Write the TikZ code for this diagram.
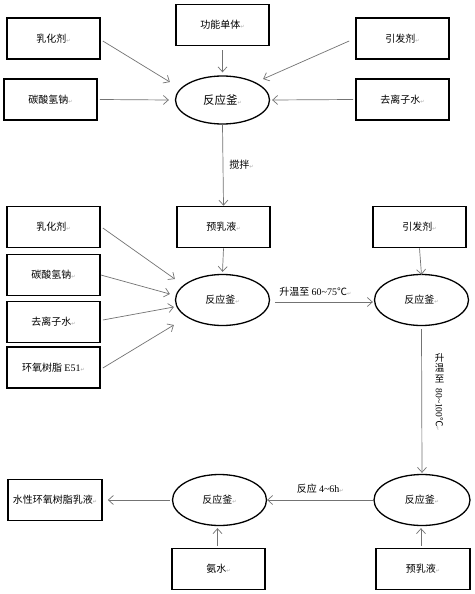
\documentclass[tikz,border=0pt]{standalone}
\usepackage{fontspec}
\usepackage{graphicx}
\setmainfont{Liberation Serif}
\newfontfamily\cjk{Noto Sans CJK SC}
\newfontfamily\symf{DejaVu Sans}
\usetikzlibrary{arrows.meta,shapes.geometric,calc}
\newcommand\rt{\textcolor{black!35}{\symf\fontsize{5}{5}\selectfont ↵}}
\begin{document}
\begin{tikzpicture}[x=1pt,y=-1pt,
  box/.style={draw=black,line width=1.7pt,minimum width=93pt,minimum height=41pt,inner sep=0pt,
    font=\cjk\fontsize{10}{12}\selectfont},
  pot/.style={draw=black,line width=1.3pt,ellipse,minimum width=94pt,minimum height=51pt,inner sep=0pt,
    font=\cjk\fontsize{10}{12}\selectfont},
  arr/.style={draw=black!55,line width=0.7pt,-{Straight Barb[length=5pt,width=9pt]}},
  lbl/.style={inner sep=0pt,font=\cjk\fontsize{10}{12}\selectfont}
]
\useasboundingbox[fill=white] (0,0) rectangle (474,594);

% ---- top section
\node[box] (ruhuaA) at (53.5,38.5) {乳化剂\rt};
\node[box] (gongneng) at (222.5,25) {功能单体\rt};
\node[box] (yinfaA) at (402.5,38.5) {引发剂\rt};
\node[box] (tansuanA) at (50.5,99.5) {碳酸氢钠\rt};
\node[box] (shuiA) at (402.5,99.5) {去离子水\rt};
\node[pot,minimum height=48pt,font=\cjk\fontsize{11.5}{13}\selectfont] (potA) at (222.5,100) {反应釜\rt};

\draw[arr] ($(ruhuaA.east)+(2,2.5)$) -- ($(potA.west)+(-5,-18)$);
\draw[arr] (gongneng.south) ++(0,4) coordinate (g0) (g0) -- ($(potA.north)+(0,-3)$);
\draw[arr] ($(yinfaA.west)+(-6,2.5)$) -- ($(potA.east)+(-7,-21)$);
\draw[arr] (tansuanA.east) ++(2,0) coordinate (t0) (t0) -- ($(potA.west)+(-6,0)$);
\draw[arr] ($(shuiA.west)+(-2,0)$) -- ($(potA.east)+(2,0)$);

% ---- middle section
\node[box] (yuruA) at (223.5,227) {预乳液\rt};
\node[box] (yinfaB) at (419.5,227) {引发剂\rt};
\node[box] (ruhuaB) at (53.5,227) {乳化剂\rt};
\node[box] (tansuanB) at (53.5,275) {碳酸氢钠\rt};
\node[box] (shuiB) at (53.5,322) {去离子水\rt};
\node[box] (huanyang) at (53.5,367.5) {环氧树脂 {\rmfamily E51}\rt};
\node[pot] (potB) at (222.5,300) {反应釜\rt};
\node[pot] (potC) at (421.5,300) {反应釜\rt};

\draw[arr] (potA.south) -- (yuruA.north) node[pos=0.5,right=6pt,lbl] {搅拌\rt};
\draw[arr] (yuruA.south) -- ($(potB.north)+(0,-2)$);
\draw[arr] (yinfaB.south) -- ($(potC.north)+(0,1)$);
\draw[arr] ($(ruhuaB.east)+(2,1)$) -- ($(potB.west)+(0,-21)$);
\draw[arr] ($(tansuanB.east)+(0,0)$) -- ($(potB.west)+(-5,-6)$);
\draw[arr] ($(shuiB.east)+(2,-2)$) -- ($(potB.west)+(-1,7)$);
\draw[arr] ($(huanyang.east)+(2,0.5)$) -- ($(potB.west)+(-1,25)$);
\draw[arr] ($(potB.east)+(5,2)$) -- ($(potC.west)+(-1,2)$)
  node[pos=0.04,above=5pt,anchor=south west,lbl] {升温至 {\rmfamily 60\textasciitilde 75}℃\rt};

% ---- bottom section
\node[box,minimum width=94pt] (chanpin) at (55,500) {水性环氧树脂乳液\rt};
\node[pot] (potD) at (219.5,500) {反应釜\rt};
\node[pot,minimum width=96pt] (potE) at (422,500) {反应釜\rt};
\node[box] (anshui) at (218.5,569) {氨水\rt};
\node[box,minimum width=94pt] (yuruB) at (423,569) {预乳液\rt};

\draw[arr] ($(potC.south)+(0,3)$) -- ($(potE.north)+(0,-1)$);
\node[lbl,anchor=north,align=center,font=\cjk\fontsize{9.5}{10.5}\selectfont] (shengwen) at (439.5,353)
  {升\\温\\至\\[-4pt]\rotatebox{-90}{\rmfamily 80\textasciitilde 100\cjk ℃\rt}};
\draw[arr] (potE.west) -- (potD.east)
  node[pos=0.5,above=6pt,lbl] {反应 {\rmfamily 4\textasciitilde 6h}\rt};
\draw[arr] ($(potD.west)+(-2,0)$) -- ($(chanpin.east)+(5,0)$);
\draw[arr] ($(anshui.north)+(-1,-2)$) -- ($(potD.south)+(-2,2)$);
\draw[arr] ($(yuruB.north)+(-2,-2)$) -- ($(potE.south)+(-1,2)$);
\end{tikzpicture}
\end{document}
